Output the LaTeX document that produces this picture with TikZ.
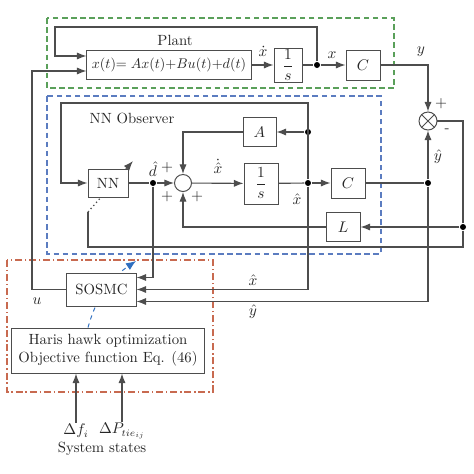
\documentclass[tikz,border=0pt]{standalone}
\usetikzlibrary{arrows.meta}
\definecolor{wire}{HTML}{4D4D4D}
\definecolor{grnline}{HTML}{5AA05A}
\definecolor{bluline}{HTML}{5B7CC0}
\definecolor{orgline}{HTML}{C86A50}
\definecolor{tuneblue}{HTML}{2F6FC0}
\begin{document}
\begin{tikzpicture}[x=0.025cm,y=-0.025cm,line width=0.8pt,draw=wire,
  >={Latex[length=2.4mm,width=1.8mm]},
  every node/.style={font=\fontsize{10.5}{12.5}\selectfont,text=black!85},
  lbl/.style={inner sep=0.5pt},
  blk/.style={draw=wire,fill=white,line width=0.7pt,inner sep=0pt},
  sumnode/.style={draw=wire,fill=white,circle,inner sep=0pt,line width=0.7pt},
  dotj/.style={circle,fill=black,inner sep=0pt,minimum size=1.5mm},
  grnbox/.style={draw=grnline,dash pattern=on 4pt off 2.5pt},
  blubox/.style={draw=bluline,dash pattern=on 4pt off 2.5pt},
  orgbox/.style={draw=orgline,dash pattern=on 5pt off 2pt on 1pt off 2pt},
  adapt/.style={dotted,line width=0.9pt},
  tune/.style={draw=tuneblue,dashed,line width=0.7pt,>={Latex[length=2.5mm,width=2mm]}}]
\useasboundingbox (0,0) rectangle (474,474);
\draw[grnbox] (47,18) rectangle (394,88);
\draw[blubox] (47,96) rectangle (381,254);
\draw[orgbox] (7,260) rectangle (213,392);
\node[lbl] (lplant) at (175,40) {Plant};
\node[lbl] (lobs) at (132,118) {NN Observer};

\node[blk,minimum width=4.1cm,minimum height=0.725cm] (plant) at (169,65) {\fontsize{10}{12}\selectfont$x(t){=}\;Ax(t){+}Bu(t){+}d(t)$};
\node[blk,minimum width=0.7cm,minimum height=0.85cm] (intg) at (288,65) {$\displaystyle\frac{1}{s}$};
\node[blk,minimum width=0.85cm,minimum height=0.75cm] (cmat) at (363,65) {$C$};
\node[sumnode,minimum size=0.45cm] (sumy) at (428,121) {};
\draw[line width=0.7pt] (sumy.north west) -- (sumy.south east) (sumy.north east) -- (sumy.south west);
\node[blk,minimum width=0.825cm,minimum height=0.725cm] (amat) at (259.5,132) {$A$};
\node[blk,minimum width=0.85cm,minimum height=1.025cm] (intgo) at (261,183.5) {$\displaystyle\frac{1}{s}$};
\node[blk,minimum width=0.85cm,minimum height=0.75cm] (cmato) at (348,183) {$C$};
\node[blk,minimum width=0.85cm,minimum height=0.725cm] (lmat) at (343,227) {$L$};
\node[sumnode,minimum size=0.425cm] (sumo) at (183,183) {};

\coordinate (nnadapt) at (88,212);
\draw[adapt,->] (nnadapt) -- (133,161);
\node[blk,minimum width=1cm,minimum height=0.7cm] (nn) at (108,183) {NN};

\node[blk,minimum width=4.8cm,minimum height=1.125cm,align=center] (hho) at (108,350.5) {Haris hawk optimization\\Objective function Eq. (46)};
\draw[tune,->] ([xshift=-0.5cm]hho.north) to[bend left=20] (136,261);
\node[blk,minimum width=1.725cm,minimum height=0.825cm] (sosmc) at (101.5,289.5) {SOSMC};

\node[dotj] (j1) at (317,65) {};
\node[dotj] (j2) at (308,183) {};
\node[dotj] (j3) at (428,183) {};
\node[dotj] (j4) at (308,132) {};
\node[dotj] (j5) at (463,227) {};
\node[dotj] (j6) at (153,183) {};

\draw[->] (plant) -- (intg);
\draw (intg) -- (j1);
\draw[->] (j1) -- (cmat);
\draw[->] (j1) -- (317,27) -- (55,27) |- ([yshift=0.225cm]plant.west);
\draw[->] (cmat) -| (sumy);
\draw[->] (sosmc.west) -- (32,289.5) |- ([yshift=-0.15cm]plant.west);

\draw (nn) -- (j6);
\draw[->] (j6) -- (sumo);
\draw[->] (sumo) -- (intgo);
\draw (intgo) -- (j2);
\draw[->] (j2) -- (cmato);
\draw (cmato) -- (j3);
\draw[->] (j3) -- (sumy);
\draw[->] (j3) |- ([yshift=-0.3cm]sosmc.east);
\draw[->] (j2) |- (sosmc.east);
\draw[->] (j2) -- (308,103) -- (61,103) |- (nn);
\draw[->] (j4) -- (amat);
\draw[->] (amat) -| (sumo);
\draw (sumy) -| (j5);
\draw[->] (j5) -- (lmat);
\draw (j5) -- (463,247) -- (88,247) -- (nnadapt);
\draw[->] (lmat) -| (sumo);
\draw[->] (j6) |- ([yshift=0.3cm]sosmc.east);

\node[lbl] (ldf) at (76,431) {$\Delta f_i$};
\node[lbl] (ldp) at (122,431) {$\Delta P_{tie_{ij}}$};
\node[lbl] (lss) at (102,449) {System states};
\draw[->] (ldf.north) -- (ldf.north |- hho.south);
\draw[->] (ldp.north) -- (ldp.north |- hho.south);

\node[lbl] (lxd) at (263,51) {$\dot{x}$};
\node[lbl] (lx) at (332,55) {$x$};
\node[lbl] (ly) at (421,52) {$y$};
\node[lbl] (lyp) at (441,104) {$+$};
\node[lbl] (lym) at (447,131) {-};
\node[lbl] (lu) at (37,301) {$u$};
\node[lbl] (ldh) at (153,169) {$\hat{d}$};
\node[lbl] (lxhd) at (218,166) {$\dot{\hat{x}}$};
\node[lbl] (lxh) at (297,199) {$\hat{x}$};
\node[lbl] (lyh) at (438,157) {$\hat{y}$};
\node[lbl] (lxhs) at (253,280) {$\hat{x}$};
\node[lbl] (lyhs) at (253,312) {$\hat{y}$};
\node[lbl] (lp1) at (167,168) {$+$};
\node[lbl] (lp2) at (167,197) {$+$};
\node[lbl] (lp3) at (197,197) {$+$};
\end{tikzpicture}
\end{document}
